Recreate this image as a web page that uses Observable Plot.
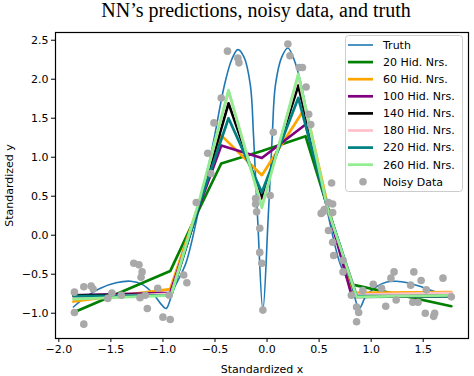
<!DOCTYPE html>
<html>
<head>
<meta charset="utf-8">
<script src="https://cdn.jsdelivr.net/npm/d3@7"></script>
<script src="https://cdn.jsdelivr.net/npm/@observablehq/plot@0.6"></script>
<style>
  body { margin: 0; background: #fff; }
  #wrap { position: relative; width: 474px; height: 376px; overflow: hidden; background: #fff; }
  #title { position: absolute; left: 0; top: 0; width: 512px; text-align: center; font-family: "Liberation Serif", "Times New Roman", serif; font-size: 20px; line-height: 20px; color: #000; }
  #legend { position: absolute; left: 345px; top: 35px; }
</style>
</head>
<body>
<div id="wrap">
  <div id="title">NN’s predictions, noisy data, and truth</div>
  <div id="chart"></div>
  <div id="legend"></div>
</div>
<script>
// ---- Data ----
const truthX = [-1.86,-1.75,-1.6,-1.45,-1.31,-1.2,-1.1,-1.02,-0.97,-0.9,-0.78,-0.66,-0.56,-0.5,-0.41,-0.34,-0.28,-0.22,-0.16,-0.13,-0.09,-0.04,0.01,0.05,0.08,0.14,0.2,0.26,0.33,0.42,0.48,0.58,0.7,0.82,0.885,0.95,1.05,1.15,1.24,1.35,1.5,1.65,1.77];
const truthY = [-0.92,-0.8,-0.68,-0.61,-0.59,-0.63,-0.74,-0.88,-0.94,-0.7,-0.36,0.3,0.9,1.3,1.92,2.25,2.38,2.28,1.92,1.28,0.2,-0.96,0.2,1.28,1.92,2.28,2.4,2.25,1.92,1.3,0.9,0.3,-0.36,-0.7,-0.94,-0.78,-0.66,-0.6,-0.59,-0.61,-0.67,-0.74,-0.79];

const knotsA = [-1.86,-0.93,-0.65,-0.44,-0.05,0.37,0.58,0.81,1.77];
const knotsB = [-1.86,-0.92,-0.65,-0.37,-0.05,0.3,0.58,0.86,1.77];

const h20  = [-0.99,-0.46,0.34,0.92,1.08,1.27,0.36,-0.63,-0.91];
const h60  = [-0.85,-0.69,0.42,1.28,0.77,1.64,0.40,-0.74,-0.73];
const h100 = [-0.77,-0.74,0.38,1.15,0.99,1.42,0.36,-0.76,-0.77];
const h140 = [-0.77,-0.76,0.40,1.69,0.47,1.92,0.35,-0.79,-0.78];
const h180 = [-0.80,-0.75,0.43,1.84,0.38,2.04,0.34,-0.76,-0.74];
const h220 = [-0.78,-0.77,0.40,1.50,0.55,1.76,0.36,-0.78,-0.78];
const h260 = [-0.82,-0.77,0.45,1.86,0.35,2.07,0.35,-0.79,-0.77];

const noisyX = [-1.85,-1.85,-1.76,-1.69,-1.67,-1.76,-1.53,-1.49,-1.4,-1.28,-1.23,-1.2,-1.21,-1.22,-1.17,-1.15,-1.05,-1.0,-0.93,-0.94,-0.8,-0.77,
  -0.68,-0.57,-0.54,-0.51,-0.44,-0.38,-0.28,-0.27,-0.11,-0.11,-0.1,-0.07,-0.07,-0.05,-0.04,0.03,0.06,
  0.2,0.22,0.31,0.34,0.375,0.4,0.42,0.52,0.54,0.55,0.59,0.63,0.62,0.63,0.59,0.63,0.64,0.73,0.73,
  0.81,0.86,0.88,0.86,0.92,1.02,1.1,1.14,1.19,1.22,1.24,1.38,1.41,1.4,1.45,1.48,1.53,1.52,1.61,1.6,1.69,1.77];
const noisyY = [-0.73,-0.99,-0.66,-0.65,-0.69,-1.14,-0.81,-0.74,-0.77,-0.36,-0.38,-0.47,-0.54,-0.8,-0.77,-0.94,-0.68,-1.05,-1.08,-0.77,-0.51,-0.61,
  0.42,1.05,0.79,1.44,1.76,2.36,2.27,2.21,0.47,0.4,0.3,0.09,-0.22,-0.36,-0.96,0.51,1.32,
  2.45,2.3,2.15,2.15,1.9,1.55,1.42,0.28,0.3,0.33,0.42,0.4,0.67,0.29,0.06,-0.09,-0.26,-0.32,-0.47,
  -0.77,-0.92,-0.99,-1.11,-0.71,-0.63,-0.68,-0.91,-0.55,-0.47,-0.83,-0.64,-0.47,-0.86,-0.86,-0.58,-0.7,-1.0,-1.0,-1.04,-0.55,-0.79];

const seriesNames  = ["20 Hid. Nrs.","60 Hid. Nrs.","100 Hid. Nrs.","140 Hid. Nrs.","180 Hid. Nrs.","220 Hid. Nrs.","260 Hid. Nrs."];
const seriesColors = ["#008000","#ffa500","#800080","#000000","#ffc0cb","#008080","#90ee90"];
const seriesKnots  = [knotsA, knotsA, knotsA, knotsB, knotsB, knotsB, knotsB];
const seriesValues = [h20, h60, h100, h140, h180, h220, h260];

const xTicks = [-2.0,-1.5,-1.0,-0.5,0.0,0.5,1.0,1.5];
const yTicks = [-1.0,-0.5,0.0,0.5,1.0,1.5,2.0,2.5];
const truthName = "Truth";
const noisyName = "Noisy Data";
const truthColor = "#1f77b4";
const noisyColor = "#a9a9a9";

// ---- Build tables ----
const truth = truthX.map((x, i) => ({x, y: truthY[i]}));
const noisy = noisyX.map((x, i) => ({x, y: noisyY[i]}));
const nnSeries = seriesNames.map((name, s) => ({
  name, color: seriesColors[s],
  data: seriesKnots[s].map((x, i) => ({x, y: seriesValues[s][i]}))
}));

const fmt = d3.format(".1f");

const marks = [
  Plot.line(truth, {x: "x", y: "y", stroke: truthColor, strokeWidth: 1.6, curve: "catmull-rom"}),
  ...nnSeries.map(s => Plot.line(s.data, {x: "x", y: "y", stroke: s.color, strokeWidth: 2.7})),
  Plot.dot(noisy, {x: "x", y: "y", r: 3.8, fill: noisyColor, stroke: "none"}),
  Plot.frame({stroke: "#000", strokeWidth: 1.2}),
  Plot.axisX({ticks: xTicks, tickFormat: fmt, tickSize: 4, tickPadding: 3, label: "Standardized x", labelAnchor: "center", labelArrow: "none", labelOffset: 34}),
  Plot.axisY({ticks: yTicks, tickFormat: fmt, tickSize: 4, tickPadding: 3, label: "Standardized y", labelAnchor: "center", labelArrow: "none", labelOffset: 50})
];

const chart = Plot.plot({
  width: 474,
  height: 376,
  marginTop: 32,
  marginLeft: 55,
  marginRight: 6,
  marginBottom: 38,
  x: {domain: [-2.032, 1.935]},
  y: {domain: [-1.324, 2.599]},
  style: {fontFamily: "DejaVu Sans", fontSize: "11px", color: "#000", background: "#fff", overflow: "visible"},
  marks
});
document.getElementById("chart").appendChild(chart);

// ---- Legend ----
const entries = [
  {name: truthName, color: truthColor, type: "line", w: 1.6},
  ...nnSeries.map(s => ({name: s.name, color: s.color, type: "line", w: 2.7})),
  {name: noisyName, color: noisyColor, type: "dot"}
];
const lw = 118, lh = 157, rowH = 17.1, row0 = 10;
const lsvg = d3.select("#legend").append("svg").attr("width", lw).attr("height", lh)
  .style("font-family", "DejaVu Sans").style("font-size", "11px");
lsvg.append("rect").attr("x", 0.5).attr("y", 0.5).attr("width", lw - 1).attr("height", lh - 1)
  .attr("rx", 3).attr("fill", "#fff").attr("fill-opacity", 0.85).attr("stroke", "#cccccc");
const rows = lsvg.selectAll("g").data(entries).join("g")
  .attr("transform", (d, i) => `translate(0,${row0 + i * rowH})`);
rows.filter(d => d.type === "line").append("line")
  .attr("x1", 3).attr("x2", 28).attr("y1", 0).attr("y2", 0)
  .attr("stroke", d => d.color).attr("stroke-width", d => d.w);
rows.filter(d => d.type === "dot").append("circle")
  .attr("cx", 18).attr("cy", 0).attr("r", 3.8).attr("fill", d => d.color);
rows.append("text").attr("x", 38).attr("y", 0).attr("dy", "0.35em").attr("fill", "#000").text(d => d.name);
</script>
</body>
</html>
